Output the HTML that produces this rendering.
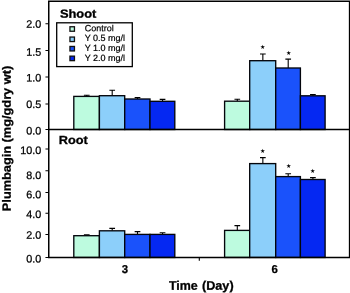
<!DOCTYPE html>
<html><head><meta charset="utf-8"><title>Plumbagin chart</title>
<style>html,body{margin:0;padding:0;background:#fff;overflow:hidden}svg{display:block}text{font-family:"Liberation Sans",sans-serif;fill:#000}</style>
</head><body>
<svg width="350" height="293" viewBox="0 0 350 293">
<rect width="350" height="293" fill="#fff"/>
<path d="M86.75 96.4V95.2M83.90 95.2H89.60" stroke="#000" stroke-width="1.1" fill="none"/>
<path d="M112.2 95.7V90.3M109.35 90.3H115.05" stroke="#000" stroke-width="1.1" fill="none"/>
<path d="M137.5 99.0V97.6M134.65 97.6H140.35" stroke="#000" stroke-width="1.1" fill="none"/>
<path d="M162.55 101.3V99.4M159.70 99.4H165.40" stroke="#000" stroke-width="1.1" fill="none"/>
<rect x="73.8" y="96.4" width="25.60" height="33.10" fill="#bdfbdf" stroke="#04060c" stroke-width="1.35"/>
<rect x="99.4" y="95.7" width="25.30" height="33.80" fill="#8ccffa" stroke="#04060c" stroke-width="1.35"/>
<rect x="124.7" y="99.0" width="25.30" height="30.50" fill="#1a52fb" stroke="#04060c" stroke-width="1.35"/>
<rect x="150.0" y="101.3" width="24.80" height="28.20" fill="#0528f2" stroke="#04060c" stroke-width="1.35"/>
<path d="M237.3 101.2V99.3M234.45 99.3H240.15" stroke="#000" stroke-width="1.1" fill="none"/>
<path d="M262.85 60.7V53.95M260.00 53.95H265.70" stroke="#000" stroke-width="1.1" fill="none"/>
<path d="M288.2 68.0V59.1M285.35 59.1H291.05" stroke="#000" stroke-width="1.1" fill="none"/>
<path d="M312.9 95.8V94.5M310.05 94.5H315.75" stroke="#000" stroke-width="1.1" fill="none"/>
<rect x="224.6" y="101.2" width="25.10" height="28.30" fill="#bdfbdf" stroke="#04060c" stroke-width="1.35"/>
<rect x="249.7" y="60.7" width="26.00" height="68.80" fill="#8ccffa" stroke="#04060c" stroke-width="1.35"/>
<rect x="275.7" y="68.0" width="24.70" height="61.50" fill="#1a52fb" stroke="#04060c" stroke-width="1.35"/>
<rect x="300.4" y="95.8" width="24.70" height="33.70" fill="#0528f2" stroke="#04060c" stroke-width="1.35"/>
<path d="M86.75 235.7V234.8M83.90 234.8H89.60" stroke="#000" stroke-width="1.1" fill="none"/>
<path d="M112.2 230.8V228.4M109.35 228.4H115.05" stroke="#000" stroke-width="1.1" fill="none"/>
<path d="M137.5 234.4V231.6M134.65 231.6H140.35" stroke="#000" stroke-width="1.1" fill="none"/>
<path d="M162.55 234.4V232.7M159.70 232.7H165.40" stroke="#000" stroke-width="1.1" fill="none"/>
<rect x="73.8" y="235.7" width="25.60" height="21.75" fill="#bdfbdf" stroke="#04060c" stroke-width="1.35"/>
<rect x="99.4" y="230.8" width="25.30" height="26.65" fill="#8ccffa" stroke="#04060c" stroke-width="1.35"/>
<rect x="124.7" y="234.4" width="25.30" height="23.05" fill="#1a52fb" stroke="#04060c" stroke-width="1.35"/>
<rect x="150.0" y="234.4" width="24.80" height="23.05" fill="#0528f2" stroke="#04060c" stroke-width="1.35"/>
<path d="M237.3 230.4V225.65M234.45 225.65H240.15" stroke="#000" stroke-width="1.1" fill="none"/>
<path d="M262.85 163.6V157.6M260.00 157.6H265.70" stroke="#000" stroke-width="1.1" fill="none"/>
<path d="M288.2 176.6V173.7M285.35 173.7H291.05" stroke="#000" stroke-width="1.1" fill="none"/>
<path d="M312.9 179.5V177.6M310.05 177.6H315.75" stroke="#000" stroke-width="1.1" fill="none"/>
<rect x="224.6" y="230.4" width="25.10" height="27.05" fill="#bdfbdf" stroke="#04060c" stroke-width="1.35"/>
<rect x="249.7" y="163.6" width="26.00" height="93.85" fill="#8ccffa" stroke="#04060c" stroke-width="1.35"/>
<rect x="275.7" y="176.6" width="24.70" height="80.85" fill="#1a52fb" stroke="#04060c" stroke-width="1.35"/>
<rect x="300.4" y="179.5" width="24.70" height="77.95" fill="#0528f2" stroke="#04060c" stroke-width="1.35"/>
<text transform="translate(262.36 49.39) rotate(0.05)" font-size="6.0" text-anchor="middle" font-family="DejaVu Sans, sans-serif">★</text>
<text transform="translate(288.06 54.69) rotate(0.05)" font-size="6.0" text-anchor="middle" font-family="DejaVu Sans, sans-serif">★</text>
<text transform="translate(262.86 153.19) rotate(0.05)" font-size="6.0" text-anchor="middle" font-family="DejaVu Sans, sans-serif">★</text>
<text transform="translate(288.36 168.19) rotate(0.05)" font-size="6.0" text-anchor="middle" font-family="DejaVu Sans, sans-serif">★</text>
<text transform="translate(312.96 172.99) rotate(0.05)" font-size="6.0" text-anchor="middle" font-family="DejaVu Sans, sans-serif">★</text>
<path d="M48.75 1.3H349.6V257.45H48.75Z M48.75 129.5H349.6" fill="none" stroke="#000" stroke-width="1.5"/>
<path d="M45.45 129.50H48.75M45.45 104.00H48.75M45.45 77.00H48.75M45.45 50.50H48.75M45.45 23.70H48.75M45.45 257.45H48.75M45.45 234.50H48.75M45.45 213.20H48.75M45.45 192.50H48.75M45.45 170.80H48.75M45.45 149.00H48.75M199.3 257.45V260.84999999999997" stroke="#000" stroke-width="1.1" fill="none"/>
<text transform="translate(41.30 134.40) rotate(0.05)" font-size="10.8" text-anchor="end" stroke="#000" stroke-width="0.25">0.0</text>
<text transform="translate(41.30 107.90) rotate(0.05)" font-size="10.8" text-anchor="end" stroke="#000" stroke-width="0.25">0.5</text>
<text transform="translate(41.30 81.40) rotate(0.05)" font-size="10.8" text-anchor="end" stroke="#000" stroke-width="0.25">1.0</text>
<text transform="translate(41.30 55.70) rotate(0.05)" font-size="10.8" text-anchor="end" stroke="#000" stroke-width="0.25">1.5</text>
<text transform="translate(41.30 27.70) rotate(0.05)" font-size="10.8" text-anchor="end" stroke="#000" stroke-width="0.25">2.0</text>
<text transform="translate(41.30 262.40) rotate(0.05)" font-size="10.8" text-anchor="end" stroke="#000" stroke-width="0.25">0.0</text>
<text transform="translate(41.30 238.70) rotate(0.05)" font-size="10.8" text-anchor="end" stroke="#000" stroke-width="0.25">2.0</text>
<text transform="translate(41.30 217.90) rotate(0.05)" font-size="10.8" text-anchor="end" stroke="#000" stroke-width="0.25">4.0</text>
<text transform="translate(41.30 198.20) rotate(0.05)" font-size="10.8" text-anchor="end" stroke="#000" stroke-width="0.25">6.0</text>
<text transform="translate(41.30 178.90) rotate(0.05)" font-size="10.8" text-anchor="end" stroke="#000" stroke-width="0.25">8.0</text>
<text transform="translate(41.30 153.90) rotate(0.05)" font-size="10.8" text-anchor="end" stroke="#000" stroke-width="0.25">10.0</text>
<text transform="translate(59.90 17.80) rotate(0.05)" font-size="11.9" font-weight="bold" textLength="36.5" lengthAdjust="spacingAndGlyphs" stroke="#000" stroke-width="0.3">Shoot</text>
<text transform="translate(58.80 144.10) rotate(0.05)" font-size="11.8" font-weight="bold" textLength="29" lengthAdjust="spacingAndGlyphs" stroke="#000" stroke-width="0.3">Root</text>
<text transform="translate(168.90 289.80) rotate(0.05)" font-size="12.5" font-weight="bold" textLength="28.8" lengthAdjust="spacingAndGlyphs" stroke="#000" stroke-width="0.3">Time</text>
<text transform="translate(202.00 289.70) rotate(0.05)" font-size="12.5" font-weight="bold" textLength="31.6" lengthAdjust="spacingAndGlyphs" stroke="#000" stroke-width="0.3">(Day)</text>
<text transform="translate(124.90 272.90) rotate(0.05)" font-size="11.4" text-anchor="middle" font-weight="bold" stroke="#000" stroke-width="0.25">3</text>
<text transform="translate(274.70 272.90) rotate(0.05)" font-size="11.4" text-anchor="middle" font-weight="bold" stroke="#000" stroke-width="0.25">6</text>
<text transform="translate(10.7 138.5) rotate(-89.96)" font-size="12.0" font-weight="bold" text-anchor="middle" textLength="145.3" lengthAdjust="spacingAndGlyphs" stroke="#000" stroke-width="0.3">Plumbagin (mg/gdry wt)</text>
<rect x="56.7" y="22.8" width="75.6" height="43.8" fill="#fff" stroke="#000" stroke-width="1.3"/>
<rect x="69.95" y="26.75" width="4.5" height="4.5" fill="#bdfbdf" stroke="#111" stroke-width="1.3"/>
<text transform="translate(84.70 31.20) rotate(0.05)" font-size="9" stroke="#000" stroke-width="0.2">Control</text>
<rect x="69.95" y="37.05" width="4.5" height="4.5" fill="#8ccffa" stroke="#111" stroke-width="1.3"/>
<text transform="translate(84.70 41.00) rotate(0.05)" font-size="9" stroke="#000" stroke-width="0.2">Y 0.5 mg/l</text>
<rect x="69.95" y="46.45" width="4.5" height="4.5" fill="#1a52fb" stroke="#111" stroke-width="1.3"/>
<text transform="translate(84.70 50.90) rotate(0.05)" font-size="9" stroke="#000" stroke-width="0.2">Y 1.0 mg/l</text>
<rect x="69.95" y="56.15" width="4.5" height="4.5" fill="#0528f2" stroke="#111" stroke-width="1.3"/>
<text transform="translate(84.70 61.00) rotate(0.05)" font-size="9" stroke="#000" stroke-width="0.2">Y 2.0 mg/l</text>
</svg>
</body></html>
